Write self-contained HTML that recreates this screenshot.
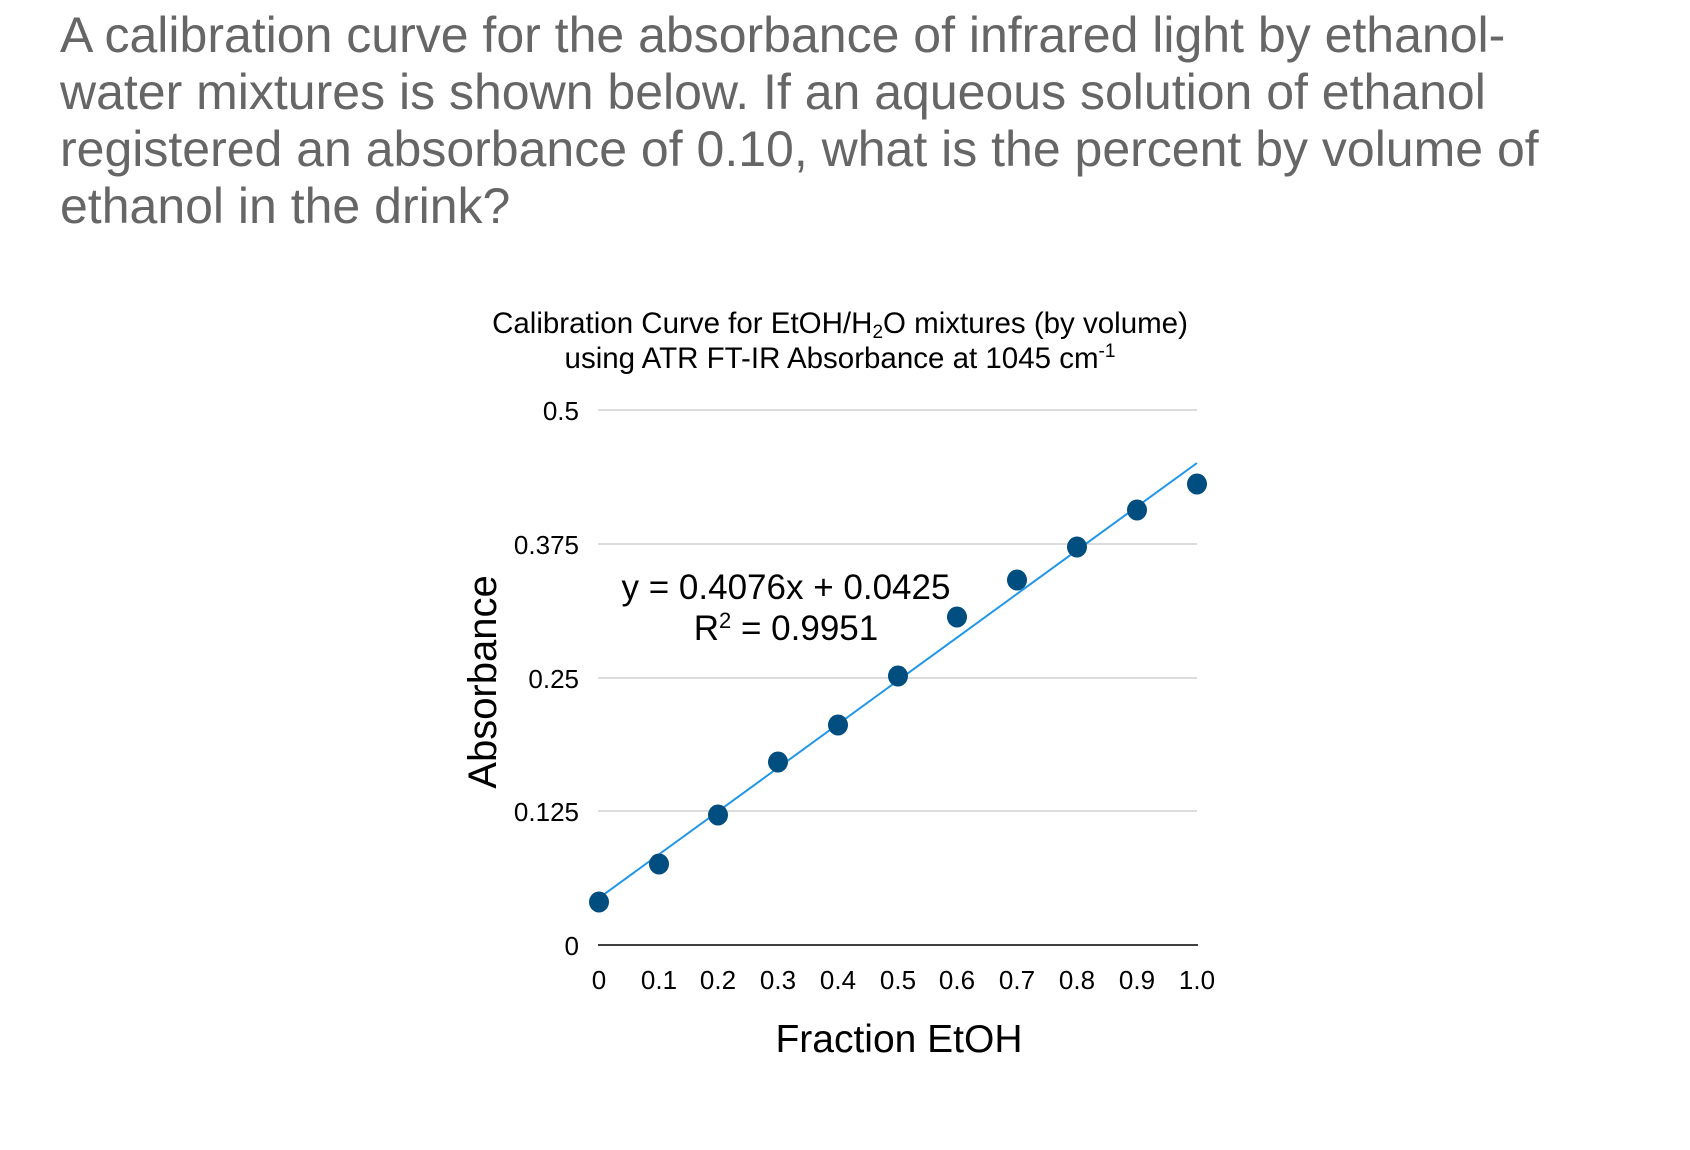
<!DOCTYPE html>
<html><head><meta charset="utf-8"><style>
html,body{margin:0;padding:0;background:#fff;}
svg{display:block;font-family:"Liberation Sans",sans-serif;}
</style></head><body>
<svg width="1690" height="1150" viewBox="0 0 1690 1150" xmlns="http://www.w3.org/2000/svg">
<g fill="#666" font-size="50">
<text x="60" y="52">A calibration curve for the absorbance of infrared light by ethanol-</text>
<text x="60" y="109">water mixtures is shown below. If an aqueous solution of ethanol</text>
<text x="60" y="166">registered an absorbance of 0.10, what is the percent by volume of</text>
<text x="60" y="223">ethanol in the drink?</text>
</g>
<g fill="#000" font-size="29.5" text-anchor="middle">
<text x="840" y="333">Calibration Curve for EtOH/H<tspan font-size="19" dy="5">2</tspan><tspan dy="-5">O mixtures (by volume)</tspan></text>
<text x="840" y="368">using ATR FT-IR Absorbance at 1045 cm<tspan font-size="19" dy="-11">-1</tspan></text>
</g>
<g stroke="#c8c8c8" stroke-width="1.3">
<line x1="598" y1="410" x2="1197" y2="410"/>
<line x1="598" y1="544" x2="1197" y2="544"/>
<line x1="598" y1="678" x2="1197" y2="678"/>
<line x1="598" y1="811" x2="1197" y2="811"/>
</g>
<line x1="598" y1="945" x2="1198" y2="945" stroke="#000" stroke-width="1.5"/>
<g font-size="26" fill="#000" text-anchor="end">
<text x="579" y="420">0.5</text>
<text x="579" y="554">0.375</text>
<text x="579" y="688">0.25</text>
<text x="579" y="821">0.125</text>
<text x="579" y="955">0</text>
</g>
<g font-size="26" fill="#000" text-anchor="middle">
<text x="599" y="989">0</text><text x="659" y="989">0.1</text><text x="718" y="989">0.2</text>
<text x="778" y="989">0.3</text><text x="838" y="989">0.4</text><text x="898" y="989">0.5</text>
<text x="957" y="989">0.6</text><text x="1017" y="989">0.7</text><text x="1077" y="989">0.8</text>
<text x="1137" y="989">0.9</text><text x="1197" y="989">1.0</text>
</g>
<text x="899" y="1052" font-size="39" text-anchor="middle" fill="#000">Fraction EtOH</text>
<text transform="translate(496,682) rotate(-90)" font-size="40" text-anchor="middle" fill="#000">Absorbance</text>
<line x1="599" y1="898" x2="1197" y2="463" stroke="#2196e8" stroke-width="2"/>
<g fill="#004d80">
<ellipse cx="599" cy="902" rx="10" ry="10.5"/>
<ellipse cx="659" cy="864" rx="10" ry="10.5"/>
<ellipse cx="718" cy="815" rx="10" ry="10.5"/>
<ellipse cx="778" cy="762" rx="10" ry="10.5"/>
<ellipse cx="838" cy="725" rx="10" ry="10.5"/>
<ellipse cx="898" cy="676" rx="10" ry="10.5"/>
<ellipse cx="957" cy="617" rx="10" ry="10.5"/>
<ellipse cx="1017" cy="580" rx="10" ry="10.5"/>
<ellipse cx="1077" cy="547" rx="10" ry="10.5"/>
<ellipse cx="1137" cy="510" rx="10" ry="10.5"/>
<ellipse cx="1197" cy="484" rx="10" ry="10.5"/>
</g>
<g font-size="35" fill="#000" text-anchor="middle">
<text x="786" y="599">y = 0.4076x + 0.0425</text>
<text x="786" y="640">R<tspan font-size="22" dy="-12">2</tspan><tspan dy="12"> = 0.9951</tspan></text>
</g>
</svg>
</body></html>
